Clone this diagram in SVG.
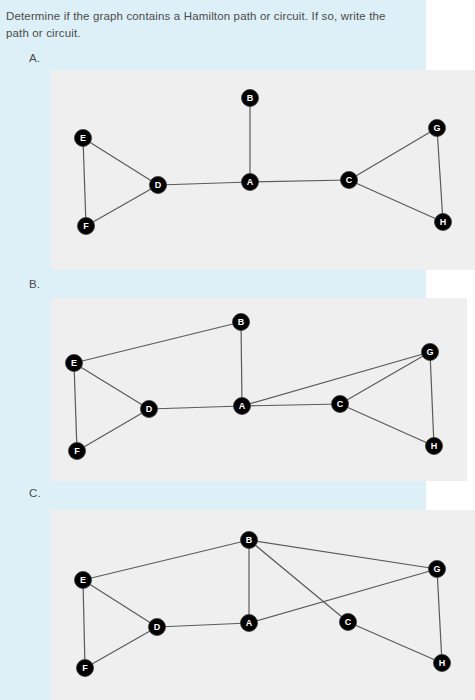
<svg xmlns="http://www.w3.org/2000/svg" width="475" height="700" viewBox="0 0 475 700">
<style>
.q{font-family:"Liberation Sans",Arial,sans-serif;font-size:11.5px;letter-spacing:0.15px;fill:#4a4a4a}
.e line{stroke:#5a5a5a;stroke-width:1.2}
.n circle{fill:#000;stroke:#333;stroke-width:0.8}
.n text{font-family:"Liberation Sans",Arial,sans-serif;font-size:9px;font-weight:bold;fill:#fff;text-anchor:middle;dominant-baseline:central}
.p{fill:#efefef}
</style>
<rect width="475" height="700" fill="#fff"/>
<rect x="0" y="0" width="426" height="700" fill="#ddf0f7"/>
<text class="q" x="6" y="20">Determine if the graph contains a Hamilton path or circuit.  If so, write the</text>
<text class="q" x="6" y="37">path or circuit.</text>
<text class="q" x="29" y="62">A.</text>
<text class="q" x="29" y="288">B.</text>
<text class="q" x="29" y="497">C.</text>
<rect class="p" x="51" y="70" width="424" height="200"/>
<rect class="p" x="51" y="298" width="416" height="183"/>
<rect class="p" x="51" y="510" width="424" height="190"/>

<g id="connectors" class="e">
<line x1="250" y1="98" x2="250" y2="182"/>
<line x1="83" y1="138" x2="158" y2="185"/>
<line x1="83" y1="138" x2="86" y2="226"/>
<line x1="86" y1="226" x2="158" y2="185"/>
<line x1="158" y1="185" x2="250" y2="182"/>
<line x1="250" y1="182" x2="349" y2="180"/>
<line x1="349" y1="180" x2="437" y2="128"/>
<line x1="349" y1="180" x2="443" y2="222"/>
<line x1="437" y1="128" x2="443" y2="222"/>

<line x1="74" y1="363" x2="241" y2="322"/>
<line x1="241" y1="322" x2="242" y2="406"/>
<line x1="74" y1="363" x2="149" y2="409"/>
<line x1="74" y1="363" x2="77" y2="451"/>
<line x1="77" y1="451" x2="149" y2="409"/>
<line x1="149" y1="409" x2="242" y2="406"/>
<line x1="242" y1="406" x2="340" y2="404"/>
<line x1="242" y1="406" x2="430" y2="352"/>
<line x1="340" y1="404" x2="430" y2="352"/>
<line x1="340" y1="404" x2="434" y2="446"/>
<line x1="430" y1="352" x2="434" y2="446"/>

<line x1="83" y1="580" x2="249" y2="540"/>
<line x1="249" y1="540" x2="437" y2="569"/>
<line x1="249" y1="540" x2="249" y2="623"/>
<line x1="249" y1="540" x2="348" y2="622"/>
<line x1="83" y1="580" x2="157" y2="627"/>
<line x1="83" y1="580" x2="85" y2="668"/>
<line x1="85" y1="668" x2="157" y2="627"/>
<line x1="157" y1="627" x2="249" y2="623"/>
<line x1="249" y1="623" x2="437" y2="569"/>
<line x1="348" y1="622" x2="442" y2="663"/>
<line x1="437" y1="569" x2="442" y2="663"/>
</g>

<g id="nodesA" class="n">
<g id="A-B"><circle cx="250" cy="98" r="8.5"/><text x="250" y="98">B</text></g>
<g id="A-E"><circle cx="83" cy="138" r="8.5"/><text x="83" y="138">E</text></g>
<g id="A-D"><circle cx="158" cy="185" r="8.5"/><text x="158" y="185">D</text></g>
<g id="A-A"><circle cx="250" cy="182" r="8.5"/><text x="250" y="182">A</text></g>
<g id="A-C"><circle cx="349" cy="180" r="8.5"/><text x="349" y="180">C</text></g>
<g id="A-G"><circle cx="437" cy="128" r="8.5"/><text x="437" y="128">G</text></g>
<g id="A-H"><circle cx="443" cy="222" r="8.5"/><text x="443" y="222">H</text></g>
<g id="A-F"><circle cx="86" cy="226" r="8.5"/><text x="86" y="226">F</text></g>
</g>
<g id="nodesB" class="n">
<g id="B-B"><circle cx="241" cy="322" r="8.5"/><text x="241" y="322">B</text></g>
<g id="B-E"><circle cx="74" cy="363" r="8.5"/><text x="74" y="363">E</text></g>
<g id="B-D"><circle cx="149" cy="409" r="8.5"/><text x="149" y="409">D</text></g>
<g id="B-A"><circle cx="242" cy="406" r="8.5"/><text x="242" y="406">A</text></g>
<g id="B-C"><circle cx="340" cy="404" r="8.5"/><text x="340" y="404">C</text></g>
<g id="B-G"><circle cx="430" cy="352" r="8.5"/><text x="430" y="352">G</text></g>
<g id="B-H"><circle cx="434" cy="446" r="8.5"/><text x="434" y="446">H</text></g>
<g id="B-F"><circle cx="77" cy="451" r="8.5"/><text x="77" y="451">F</text></g>
</g>
<g id="nodesC" class="n">
<g id="C-B"><circle cx="249" cy="540" r="8.5"/><text x="249" y="540">B</text></g>
<g id="C-E"><circle cx="83" cy="580" r="8.5"/><text x="83" y="580">E</text></g>
<g id="C-D"><circle cx="157" cy="627" r="8.5"/><text x="157" y="627">D</text></g>
<g id="C-A"><circle cx="249" cy="623" r="8.5"/><text x="249" y="623">A</text></g>
<g id="C-C"><circle cx="348" cy="622" r="8.5"/><text x="348" y="622">C</text></g>
<g id="C-G"><circle cx="437" cy="569" r="8.5"/><text x="437" y="569">G</text></g>
<g id="C-H"><circle cx="442" cy="663" r="8.5"/><text x="442" y="663">H</text></g>
<g id="C-F"><circle cx="85" cy="668" r="8.5"/><text x="85" y="668">F</text></g>
</g>
</svg>
